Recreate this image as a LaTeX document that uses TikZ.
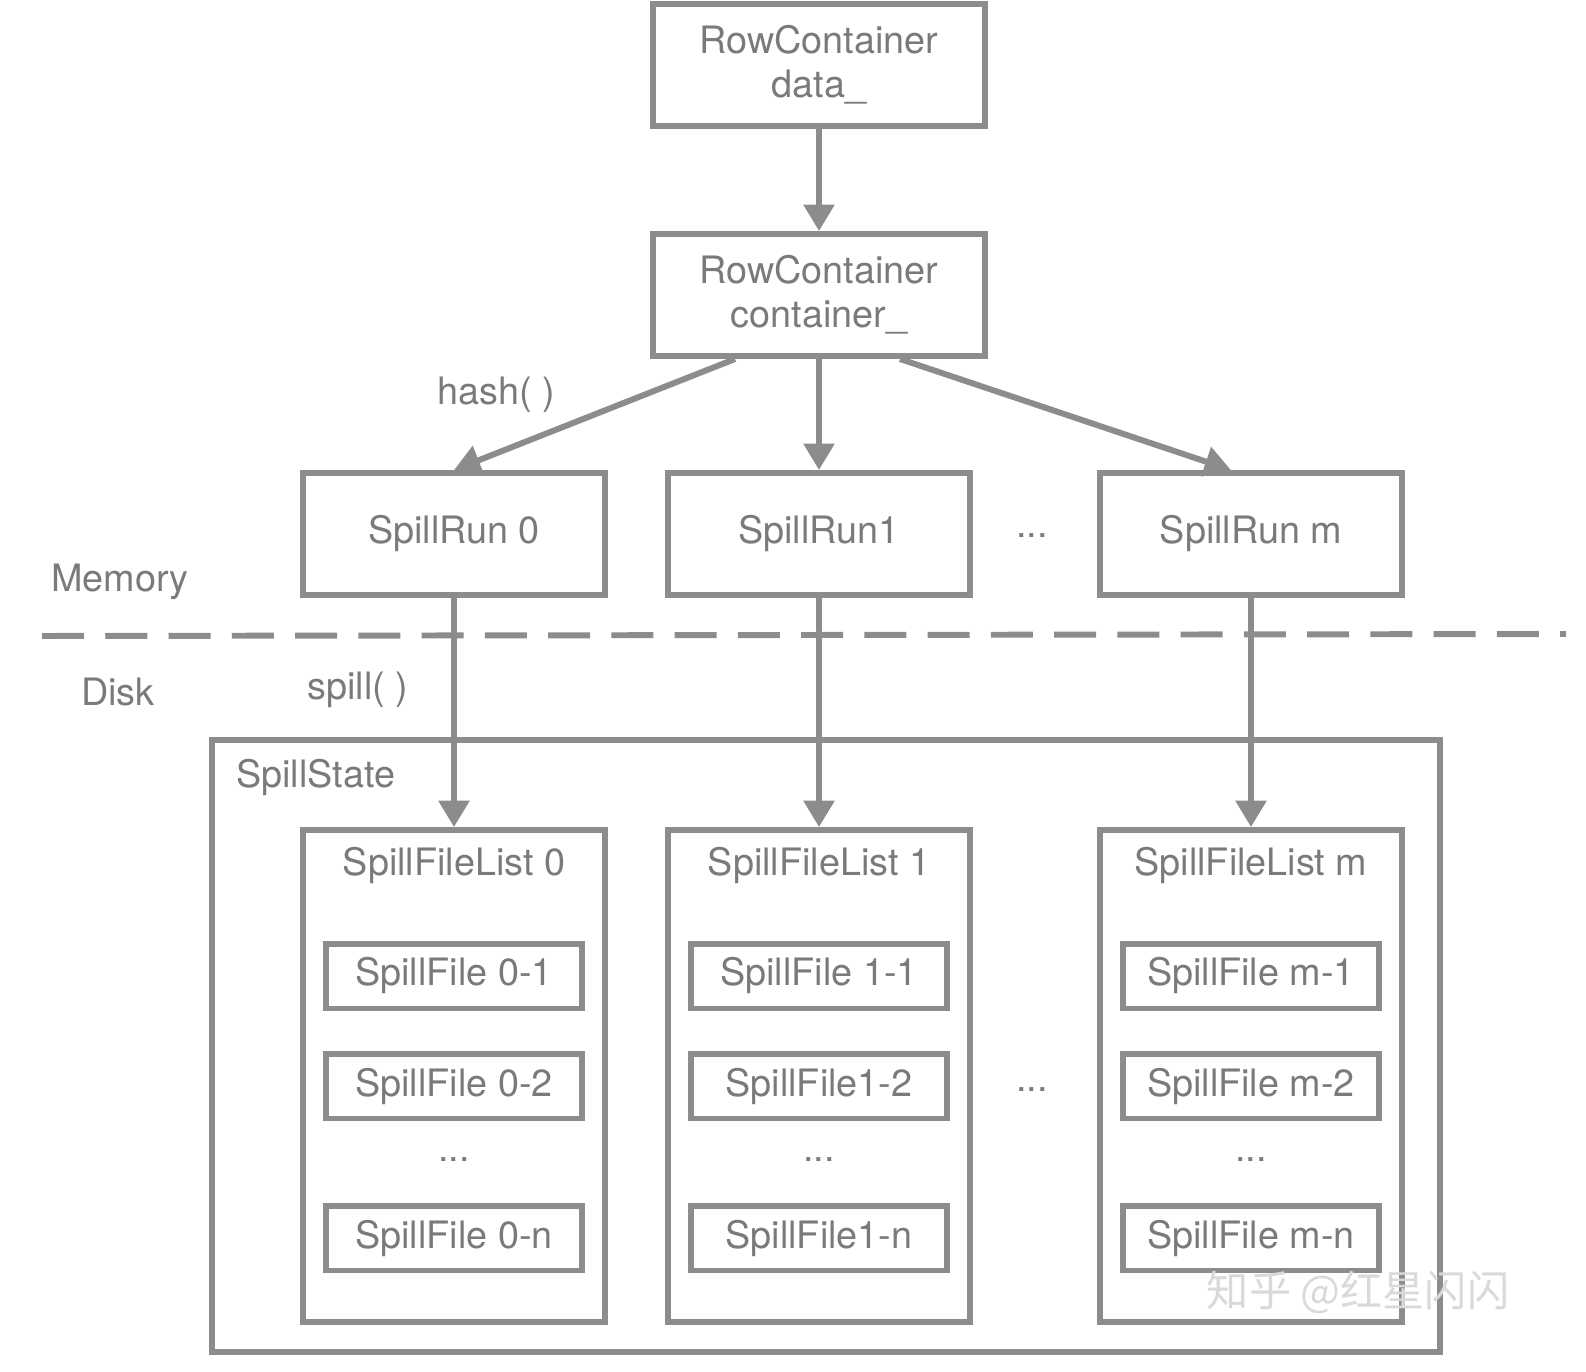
\documentclass[tikz,border=0pt]{standalone}
\usepackage{fontspec}
\setmainfont{TeX Gyre Heros}
\newfontfamily\cjk{Noto Sans CJK SC}
\usetikzlibrary{arrows.meta,positioning}
\definecolor{boxgray}{HTML}{8C8C8C}
\definecolor{txtgray}{HTML}{7A7A7A}
\tikzset{
  box/.style={draw=boxgray, line width=3.4pt, text=txtgray, align=center, inner sep=0pt},
  big/.style={box, minimum width=6.64cm, minimum height=2.44cm, font=\fontsize{21.5}{25}\selectfont},
  run/.style={box, minimum width=6.04cm, minimum height=2.44cm, font=\fontsize{21.5}{25}\selectfont},
  list/.style={box, minimum width=6.04cm, minimum height=9.84cm},
  file/.style={box, minimum width=5.12cm, minimum height=1.3cm, font=\fontsize{21.5}{25}\selectfont},
  lbl/.style={text=txtgray, font=\fontsize{21.5}{25}\selectfont},
  arr/.style={draw=boxgray, line width=3.4pt, -{Triangle[width=17pt,length=15pt]}}
}
\begin{document}
\begin{tikzpicture}[x=0.02cm,y=-0.02cm]
	\useasboundingbox (0,0) rectangle (1586,1372);
	% memory side
	\node[big] (data) at (819,65) {RowContainer\\data\_};
	\node[big] (cont) at (819,295) {RowContainer\\container\_};
	\node[run] (run0) at (454,534) {SpillRun 0};
	\node[run] (run1) at (819,534) {SpillRun1};
	\node[run] (runm) at (1251,534) {SpillRun m};
	\node[lbl] (rdots) at (1032,536) {...};
	\node[lbl] (hash) at (496,395) {hash( )};
	\node[lbl] (mem) at (120,582) {Memory};
	\node[lbl] (disk) at (118,692) {Disk};
	\node[lbl] (spill) at (358,690) {spill( )};
	\coordinate (dl) at (42,636);
	\coordinate (dr) at (1566,634);
	\draw[boxgray, line width=3.4pt, dash pattern=on 24pt off 12pt] (dl) -- (dr);

	% disk side
	\node[box, minimum width=24.56cm, minimum height=12.24cm] (state) at (826,1046) {};
	\node[lbl, anchor=west] (stlbl) at (230,778) {SpillState};
	\foreach \n/\x/\k/\a/\b in {0/454/0/SpillFile 0-1/SpillFile 0-2, 1/819/1/SpillFile 1-1/SpillFile1-2, m/1251/m/SpillFile m-1/SpillFile m-2} {
		\node[list] (list\n) at (\x,1076) {};
		\node[lbl] (title\n) at (\x,866) {SpillFileList \k};
		\node[file] (f\n a) at (\x,976) {\a};
		\node[file] (f\n b) at (\x,1086) {\b};
		\node[lbl] (fdots\n) at (\x,1160) {...};
	}
	\node[file] (f0n) at (454,1238) {SpillFile 0-n};
	\node[file] (f1n) at (819,1238) {SpillFile1-n};
	\node[file] (fmn) at (1251,1238) {SpillFile m-n};
	\node[lbl] (ldots) at (1032,1090) {...};

	% connectors
	\draw[arr] (data) -- (cont);
	\coordinate (c0) at ([xshift=-1.68cm]cont.south);
	\draw[arr] (c0) -- (run0.north);
	\draw[arr] (cont) -- (run1);
	\coordinate (cm) at ([xshift=1.62cm]cont.south);
	\draw[arr] (cm) -- ([xshift=-0.4cm]runm.north);
	\draw[arr] (run0) -- (list0);
	\draw[arr] (run1) -- (list1);
	\draw[arr] (runm) -- (listm);

	\node[text=black!15, font=\cjk\fontsize{24}{28}\selectfont] (wm) at (1358,1292) {知乎 @红星闪闪};
\end{tikzpicture}
\end{document}
